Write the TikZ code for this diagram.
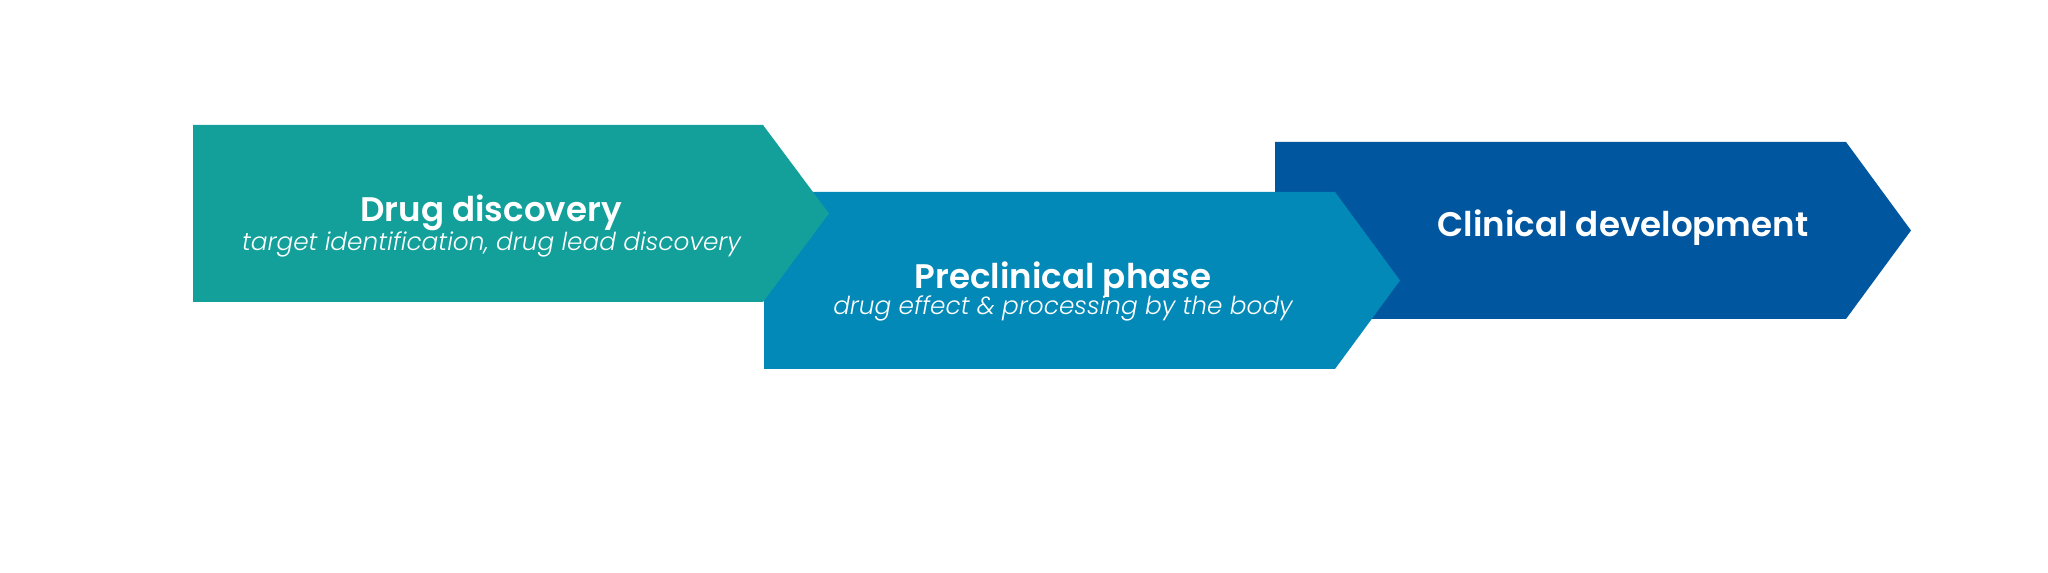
\documentclass[tikz,border=0pt]{standalone}
\usepackage{fontspec}
\setmainfont{Poppins}
\newfontfamily\titlefont{Poppins}[UprightFont=* SemiBold]
\newfontfamily\subfont{Poppins}[UprightFont=* Light, ItalicFont=* Light Italic]
\definecolor{discovery}{RGB}{19,160,155}
\definecolor{preclinical}{RGB}{2,137,183}
\definecolor{clinical}{RGB}{1,87,159}
\tikzset{
    title/.style={anchor=base, text=white, inner sep=0pt, font=\titlefont\fontsize{9.7}{11}\selectfont},
    subtitle/.style={anchor=base, text=white, inner sep=0pt, font=\subfont\itshape\fontsize{7.05}{9}\selectfont}
}
\begin{document}
\begin{tikzpicture}
\useasboundingbox (0,0) rectangle (20.48,5.73);

% les fletxes, de la darrera a la primera
\fill [clinical](12.75,4.31) -- (18.46,4.31) -- (19.11,3.425) -- (18.46,2.54) -- (12.75,2.54) -- cycle;
\fill [preclinical](7.64,3.81) -- (13.35,3.81) -- (14.00,2.925) -- (13.35,2.04) -- (7.64,2.04) -- cycle;
\fill [discovery](1.93,4.48) -- (7.63,4.48) -- (8.29,3.595) -- (7.63,2.71) -- (1.93,2.71) -- cycle;

\node[title] (discoverytitle) at (4.91,3.51) {Drug discovery};
\node[subtitle] (discoverytext) at (4.915,3.22) {target identification, drug lead discovery};

\node[title] (preclinicaltitle) at (10.63,2.84) {Preclinical phase};
\node[subtitle] (preclinicaltext) at (10.63,2.58) {drug effect \& processing by the body};

\node[title] (clinicaltitle) at (16.23,3.36) {Clinical development};

\end{tikzpicture}
\end{document}
